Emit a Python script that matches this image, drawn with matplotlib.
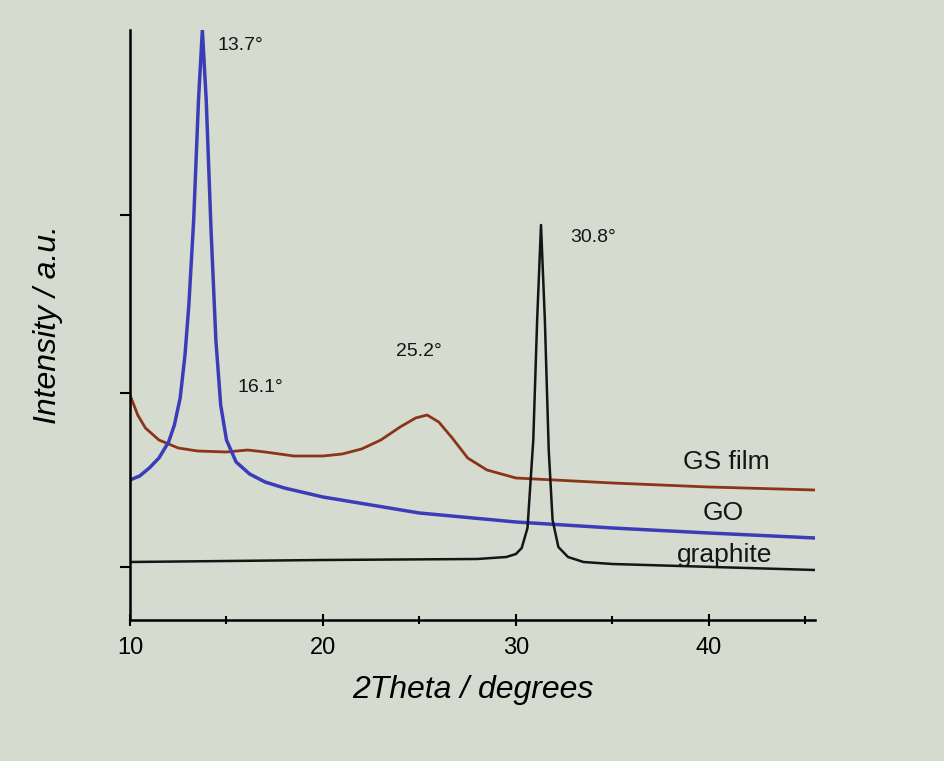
import matplotlib
matplotlib.use("Agg")
import matplotlib.pyplot as plt

graphite_x = [10, 20, 28, 29.5, 30.0, 30.3, 30.6, 30.9, 31.1, 31.3, 31.5, 31.7, 31.9, 32.2, 32.7, 33.5, 35, 45.5]
graphite_y = [58, 60, 61, 63, 66, 72, 92, 180, 300, 395, 300, 170, 100, 73, 63, 58, 56, 50]

go_x = [10, 10.5, 11, 11.5, 12, 12.3, 12.6, 12.85, 13.05, 13.3, 13.55, 13.75, 13.95, 14.2, 14.45, 14.7, 15.0, 15.5, 16.2, 17, 18, 20, 25, 30, 35, 40, 45.5]
go_y = [140, 144, 152, 162, 178, 195, 222, 265, 315, 400, 520, 590, 520, 390, 280, 215, 180, 158, 146, 138, 132, 123, 107, 98, 92, 87, 82]

gs_x = [10, 10.4, 10.8, 11.5, 12.5, 13.5, 15, 16.1, 17, 18.5, 20, 21, 22, 23, 24, 24.8, 25.4, 26, 26.7, 27.5, 28.5, 30, 35, 40, 45.5]
gs_y = [225, 205, 192, 180, 172, 169, 168, 170, 168, 164, 164, 166, 171, 180, 193, 202, 205, 198, 182, 162, 150, 142, 137, 133, 130]

xticks = [10, 20, 30, 40]
yticks = [53, 227, 405]

plt.rcParams['font.family'] = ['Liberation Sans', 'DejaVu Sans']
bg = "#d5dbcf"
fig = plt.figure(figsize=(9.45, 7.61), dpi=100, facecolor=bg)
ax = fig.add_axes([130/945, 141/761, 685/945, 590/761], facecolor=bg)
ax.plot(gs_x, gs_y, color="#8a3518", lw=2)
ax.plot(go_x, go_y, color="#3b3db8", lw=2.5)
ax.plot(graphite_x, graphite_y, color="#151515", lw=1.8)
ax.set_xlim(10, 45.5)
ax.set_ylim(0, 590)
for s in ["top", "right"]:
    ax.spines[s].set_visible(False)
ax.spines["left"].set_linewidth(1.8)
ax.spines["bottom"].set_linewidth(1.8)
ax.set_xticks(xticks)
ax.set_xticks([15, 25, 35, 45], minor=True)
ax.set_yticks(yticks)
ax.set_yticklabels([])
ax.tick_params(axis="x", direction="inout", length=8, width=1.5, labelsize=17, pad=8)
ax.tick_params(axis="x", which="minor", direction="inout", length=6, width=1.5)
ax.tick_params(axis="y", direction="out", length=7, width=1.5)
ax.set_xlabel("2Theta / degrees", fontsize=23, fontstyle="italic", labelpad=12)
ax.set_ylabel("Intensity / a.u.", fontsize=23, fontstyle="italic", labelpad=38)

def px(x, y):
    return (10 + (x - 130) / 19.3, 620 - y)

labels = [("13.7°", 218, 45), ("30.8°", 570, 237), ("25.2°", 396, 352), ("16.1°", 238, 388),
          ("GS film", 683, 462), ("GO", 703, 513), ("graphite", 677, 555)]
for t, x, y in labels:
    fs = 14 if "°" in t else 19
    ax.text(*px(x, y), t, fontsize=fs, va="center", ha="left", color="#151515")

fig.savefig("out.png", dpi=100, facecolor=bg)
